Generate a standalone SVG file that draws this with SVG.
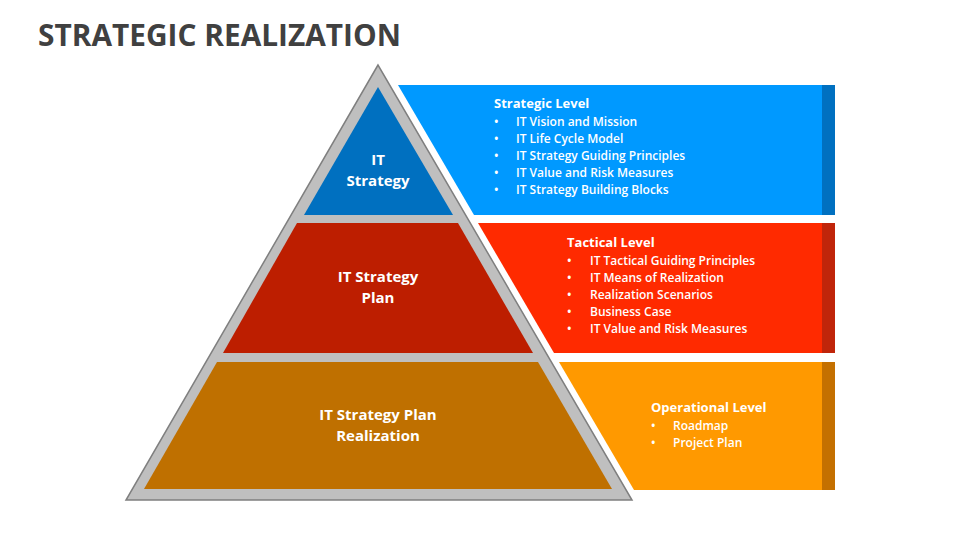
<svg xmlns="http://www.w3.org/2000/svg" width="960" height="540" viewBox="0 0 960 540">
<style>
text{font-family:"Open Sans","Liberation Sans",sans-serif;fill:#fff}
.t{font-size:30px;font-weight:700;fill:#404040;font-family:"Open Sans","Liberation Sans",sans-serif}
.n{font-size:15px;font-weight:700;text-anchor:middle}
.h{font-size:13px;font-weight:700}
.b{font-size:12px;font-weight:600}
</style>
<rect width="960" height="540" fill="#fff"/>
<text class="t" x="38" y="46" textLength="363" lengthAdjust="spacingAndGlyphs">STRATEGIC REALIZATION</text>
<g id="frame"><polygon points="378,65 126,500 632,500" fill="#BFBFBF" stroke="#7F7F7F" stroke-width="1.5"/></g>
<g id="top"><polygon points="378,87 304,215 453,215" fill="#0070C0"/>
<text class="n" x="378" y="165">IT</text><text class="n" x="378" y="186">Strategy</text></g>
<g id="mid"><polygon points="297,223 458,223 533,353 223,353" fill="#BD1E00"/>
<text class="n" x="378" y="282">IT Strategy</text><text class="n" x="378" y="303">Plan</text></g>
<g id="bot"><polygon points="217,362 538,362 612,489 144,489" fill="#BF7000"/>
<text class="n" x="378" y="420">IT Strategy Plan</text><text class="n" x="378" y="441">Realization</text></g>
<g id="strategic"><polygon points="398,85 835,85 835,215 474,215" fill="#0099FF"/><rect x="822" y="85" width="13" height="130" fill="#0070C0"/>
<text class="h" x="494" y="108">Strategic Level</text>
<text class="b"><tspan x="494" y="126">•</tspan><tspan x="516">IT Vision and Mission</tspan><tspan x="494" y="143">•</tspan><tspan x="516">IT Life Cycle Model</tspan><tspan x="494" y="160">•</tspan><tspan x="516">IT Strategy Guiding Principles</tspan><tspan x="494" y="177">•</tspan><tspan x="516">IT Value and Risk Measures</tspan><tspan x="494" y="194">•</tspan><tspan x="516">IT Strategy Building Blocks</tspan></text></g>
<g id="tactical"><polygon points="478,223 835,223 835,353 554,353" fill="#FF2A00"/><rect x="822" y="223" width="13" height="130" fill="#C0250A"/>
<text class="h" x="567" y="247">Tactical Level</text>
<text class="b"><tspan x="567" y="265">•</tspan><tspan x="590">IT Tactical Guiding Principles</tspan><tspan x="567" y="282">•</tspan><tspan x="590">IT Means of Realization</tspan><tspan x="567" y="299">•</tspan><tspan x="590">Realization Scenarios</tspan><tspan x="567" y="316">•</tspan><tspan x="590">Business Case</tspan><tspan x="567" y="333">•</tspan><tspan x="590">IT Value and Risk Measures</tspan></text></g>
<g id="operational"><polygon points="559,362 835,362 835,490 634,490" fill="#FF9900"/><rect x="822" y="362" width="13" height="128" fill="#C47000"/>
<text class="h" x="651" y="412">Operational Level</text>
<text class="b"><tspan x="651" y="430">•</tspan><tspan x="673">Roadmap</tspan><tspan x="651" y="447">•</tspan><tspan x="673">Project Plan</tspan></text></g>
</svg>
